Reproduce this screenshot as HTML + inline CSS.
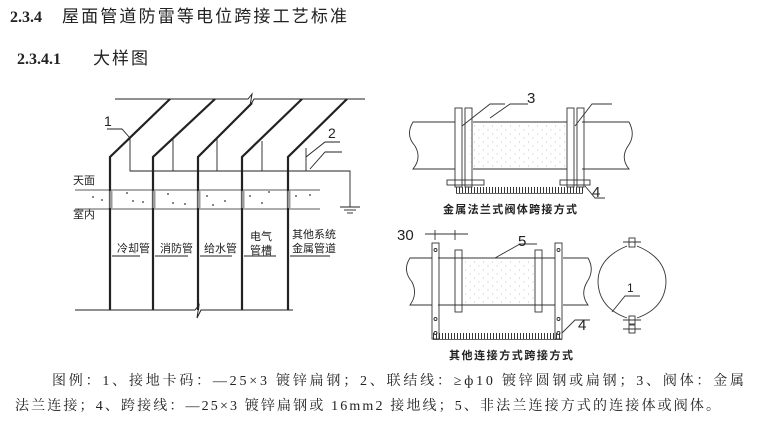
<!DOCTYPE html>
<html><head><meta charset="utf-8"><style>
html,body{margin:0;padding:0;background:#fff;}
svg{display:block;}
text{font-family:"Liberation Serif","Noto Serif CJK SC","Noto Sans CJK SC",serif;fill:#222;}
.s{font-family:"Liberation Sans","Noto Sans CJK SC",sans-serif;}
</style></head><body>
<svg width="760" height="434" viewBox="0 0 760 434" xmlns="http://www.w3.org/2000/svg">
<defs>
<pattern id="dots" x="0" y="0" width="9" height="8" patternUnits="userSpaceOnUse">
<circle cx="2" cy="2" r="0.5" fill="#aaa"/><circle cx="6.5" cy="6" r="0.5" fill="#aaa"/>
</pattern>
</defs>
<!-- headings -->
<text x="10" y="22" font-size="16" font-weight="bold">2.3.4</text>
<text class="s" x="62" y="22" font-size="17" textLength="285" lengthAdjust="spacing">屋面管道防雷等电位跨接工艺标准</text>
<text x="17" y="64" font-size="16" font-weight="bold">2.3.4.1</text>
<text class="s" x="93" y="64" font-size="17" textLength="55" lengthAdjust="spacing">大样图</text>

<!-- left diagram -->
<g stroke="#222" fill="none">
<path d="M115,99 H248 L252,94 L250,106 L254,99 H365" stroke-width="1"/>
<path d="M75,310 H195 L199,305 L197,318 L201,310 H293" stroke-width="1"/>
<line x1="75" y1="190" x2="320" y2="190" stroke-width="0.8"/>
<line x1="75" y1="209" x2="320" y2="209" stroke-width="0.8"/>
<g stroke-width="2.2">
<path d="M110,310 V157 L170,99"/>
<path d="M153,310 V157 L215,99"/>
<path d="M198,310 V157 L252,103"/>
<path d="M242,310 V157 L302,99"/>
<path d="M288,310 V157 L347,99"/>
</g>
<g stroke-width="0.9">
<path d="M130,138 V171 H350 V207"/>
<path d="M107,129 L122,129 L130,138"/>
<line x1="173" y1="138" x2="173" y2="171"/>
<line x1="217" y1="138" x2="217" y2="171"/>
<line x1="262" y1="141" x2="262" y2="171"/>
<line x1="306" y1="148" x2="306" y2="171"/>
<path d="M310,169 L325,152 H342"/>
<path d="M306,157 L325,142 H340"/>
<line x1="340" y1="207" x2="360" y2="207"/>
<line x1="344" y1="210" x2="356" y2="210"/>
<line x1="347" y1="213" x2="353" y2="213"/>
<line x1="112" y1="256" x2="140" y2="256"/><line x1="155" y1="256" x2="188" y2="256"/>
<line x1="200" y1="256" x2="232" y2="256"/><line x1="244" y1="256" x2="276" y2="256"/>
<line x1="290" y1="256" x2="330" y2="256"/>
</g>
<g stroke="#999" stroke-width="3">
<line x1="111" y1="191" x2="111" y2="208"/><line x1="154" y1="191" x2="154" y2="208"/>
<line x1="199" y1="191" x2="199" y2="208"/><line x1="243" y1="191" x2="243" y2="208"/>
<line x1="289" y1="191" x2="289" y2="208"/>
</g>
</g>
<g fill="#333">
<circle cx="93" cy="197" r="0.9"/><circle cx="102" cy="200" r="0.9"/><circle cx="127" cy="193" r="0.9"/><circle cx="133" cy="201" r="0.9"/><circle cx="143" cy="202" r="0.9"/>
<circle cx="168" cy="194" r="0.9"/><circle cx="173" cy="203" r="0.9"/><circle cx="185" cy="204" r="0.9"/><circle cx="207" cy="196" r="0.9"/><circle cx="213" cy="205" r="0.9"/><circle cx="225" cy="201" r="0.9"/>
<circle cx="250" cy="196" r="0.9"/><circle cx="262" cy="203" r="0.9"/><circle cx="269" cy="192" r="0.9"/><circle cx="296" cy="196" r="0.9"/><circle cx="310" cy="195" r="0.9"/>
</g>
<g font-size="11" class="s">
<text class="s" x="73" y="184">天面</text>
<text class="s" x="73" y="218">室内</text>
<text class="s" x="117" y="252">冷却管</text>
<text class="s" x="160" y="252">消防管</text>
<text class="s" x="204" y="252">给水管</text>
<text class="s" x="250" y="240">电气</text>
<text class="s" x="250" y="254">管槽</text>
<text class="s" x="292" y="238">其他系统</text>
<text class="s" x="292" y="252">金属管道</text>
</g>
<text class="s" x="104" y="126" font-size="14" fill="#555">1</text>
<text class="s" x="328" y="138" font-size="14" fill="#555">2</text>

<!-- right top -->
<rect x="470" y="122" width="97" height="47" fill="url(#dots)"/>
<g stroke="#333" fill="none" stroke-width="0.9">
<path d="M455,122 H413 Q405,135 415,146 Q422,158 413,169 H455"/>
<path d="M582,122 H629 Q636,135 628,146 Q620,158 629,169 H582"/>
<line x1="473" y1="122" x2="567" y2="122"/><line x1="473" y1="169" x2="567" y2="169"/>
<rect x="455" y="108" width="7" height="79"/><rect x="465" y="108" width="7" height="79"/>
<rect x="567" y="108" width="7" height="79"/><rect x="577" y="108" width="7" height="79"/>
<rect x="447" y="180" width="37" height="5"/><rect x="560" y="180" width="30" height="5"/>
<path d="M462,126 L490,104 H505"/><path d="M490,118 L510,104 H528"/><path d="M575,126 L592,104 H612"/>
<path d="M585,186 L595,198 H605"/>
<line x1="456" y1="190" x2="583" y2="190" stroke-width="6" stroke-dasharray="1 2"/>
<line x1="456" y1="193.5" x2="583" y2="193.5" stroke-width="0.8"/>
</g>
<text class="s" x="527" y="103" font-size="15" fill="#444">3</text>
<text class="s" x="592" y="197" font-size="15" fill="#444">4</text>
<text class="s" x="443" y="213" font-size="11" font-weight="bold" textLength="134" lengthAdjust="spacing">金属法兰式阀体跨接方式</text>

<!-- right bottom -->
<rect x="462" y="258" width="73" height="47" fill="url(#dots)"/>
<g stroke="#333" fill="none" stroke-width="0.9">
<path d="M432,258 H410 Q402,270 412,282 Q418,294 410,305 H432"/>
<path d="M563,258 H588 Q595,270 587,282 Q580,294 588,305 H563"/>
<line x1="438" y1="258" x2="555" y2="258"/><line x1="438" y1="305" x2="555" y2="305"/>
<rect x="432" y="243" width="7" height="96"/>
<rect x="455" y="250" width="7" height="62"/>
<rect x="535" y="250" width="7" height="62"/>
<rect x="555" y="243" width="7" height="96"/>
<circle cx="435.5" cy="250" r="1.5"/><circle cx="435.5" cy="319" r="1.5"/><circle cx="435.5" cy="333" r="1.5"/>
<circle cx="558.5" cy="250" r="1.5"/><circle cx="558.5" cy="319" r="1.5"/><circle cx="558.5" cy="333" r="1.5"/>
<path d="M425,234 H468"/><path d="M435,230 V240"/><path d="M455,230 V240"/>
<path d="M495,258 L520,244 H537"/>
<path d="M562,333 L575,320 H590"/>
<line x1="433" y1="336" x2="562" y2="336" stroke-width="6" stroke-dasharray="1 2"/>
<line x1="433" y1="339.5" x2="562" y2="339.5" stroke-width="0.8"/>
<path d="M627,246 Q598,258 598,282 Q599,308 627,318"/>
<path d="M637,246 Q666,258 666,282 Q665,308 637,318"/>
<path d="M612,312 L625,296 H640"/>
<rect x="629" y="238" width="6" height="9"/><rect x="629" y="316" width="6" height="8"/><rect x="629" y="325" width="6" height="8"/>
<line x1="623" y1="242" x2="641" y2="242"/><line x1="623" y1="320" x2="641" y2="320"/><line x1="623" y1="329" x2="641" y2="329"/>
</g>
<text class="s" x="397" y="240" font-size="15" fill="#444">30</text>
<text class="s" x="518" y="246" font-size="15" fill="#444">5</text>
<text class="s" x="578" y="330" font-size="15" fill="#444">4</text>
<text class="s" x="627" y="292" font-size="12" fill="#444">1</text>
<text class="s" x="449" y="359" font-size="11" font-weight="bold" textLength="124" lengthAdjust="spacing">其他连接方式跨接方式</text>

<!-- legend -->
<text x="52" y="385" font-size="14" textLength="692" lengthAdjust="spacing">图例：1、接地卡码：—25×3 镀锌扁钢；2、联结线：≥ф10 镀锌圆钢或扁钢；3、阀体：金属</text>
<text x="15" y="410" font-size="14" textLength="705" lengthAdjust="spacing">法兰连接；4、跨接线：—25×3 镀锌扁钢或 16mm2 接地线；5、非法兰连接方式的连接体或阀体。</text>
</svg>
</body></html>
